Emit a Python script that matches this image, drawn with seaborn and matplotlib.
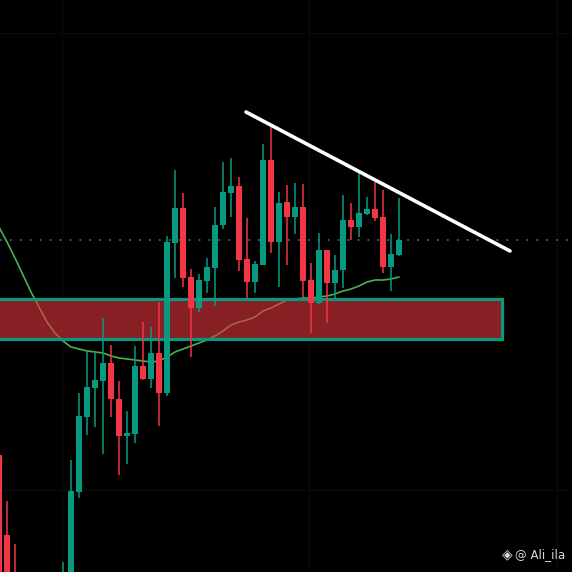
import numpy as np
import pandas as pd
import seaborn as sns
import matplotlib.pyplot as plt
from matplotlib.patches import Rectangle

# candle values (arbitrary price units)
opens = [245, 165, 115, 100, 60, 35, 50, 75, 100, 125, 208, 283, 312, 319, 337, 301, 264, 266,
         334, 321, 347, 307, 457, 492, 423, 392, 419, 432, 475, 507, 514, 441, 418, 435, 540, 458,
         498, 483, 493, 420, 397, 450, 417, 430, 480, 473, 486, 491, 483, 433, 445]
closes = [100, 90, 80, 60, 40, 50, 80, 100, 125, 209, 284, 313, 320, 337, 301, 264, 267, 334,
          321, 347, 307, 458, 492, 422, 392, 420, 433, 475, 508, 514, 440, 418, 436, 540, 458, 497,
          483, 493, 419, 397, 450, 417, 430, 480, 473, 487, 491, 482, 433, 446, 460]
highs = [256, 199, 156, 110, 70, 60, 90, 110, 138, 240, 307, 348, 348, 382, 355, 319, 289, 354,
         378, 373, 398, 464, 530, 507, 431, 426, 442, 493, 538, 542, 523, 482, 439, 556, 576, 508,
         515, 517, 516, 437, 467, 450, 445, 505, 497, 528, 503, 518, 510, 466, 502]
lows = [90, 80, 70, 50, 30, 25, 45, 70, 95, 120, 202, 265, 273, 246, 283, 225, 236, 257, 320,
        312, 274, 304, 422, 413, 343, 388, 407, 394, 471, 483, 429, 402, 407, 435, 447, 413, 435,
        466, 403, 367, 396, 377, 402, 412, 460, 463, 485, 479, 427, 409, 444]
ma = [473, 458, 442, 425, 408, 393, 378, 367, 359, 353, 351, 349, 348, 347, 344, 342, 341, 340,
      339, 338, 339, 343, 348, 351, 354, 357, 360, 364, 369, 375, 378, 380, 383, 389, 392, 396,
      400, 401, 402, 402, 403, 404, 406, 409, 411, 414, 418, 420, 420, 421, 423]

zone_low, zone_high = 361, 401
dotted_level = 460
trend_x = [30.875, 63.875]
trend_y = [588, 449]

GREEN = "#089981"
RED = "#f23645"

df = pd.DataFrame({"i": np.arange(len(opens)), "open": opens, "close": closes,
                   "high": highs, "low": lows, "ma": ma})

sns.set_theme(style="dark")
fig = plt.figure(figsize=(5.72, 5.72), dpi=100, facecolor="black")
ax = fig.add_axes([0, 0, 1, 1])
ax.set_facecolor("black")

# faint grid
for gx in [7.875, 38.75, 69.75]:
    ax.axvline(gx, color="#0b0b0b", lw=0.8, zorder=0)
for gy in [667, 210]:
    ax.axhline(gy, color="#0b0b0b", lw=0.8, zorder=0)

# moving average under the zone
sns.lineplot(data=df, x="i", y="ma", color="#4caf50", lw=1.2, ax=ax, zorder=1)

# demand zone (translucent fill so the MA shows through)
ax.add_patch(Rectangle((-3, zone_low), 65.875, zone_high - zone_low,
                       facecolor="#e3343f", alpha=0.6, lw=0, zorder=2))
ax.add_patch(Rectangle((-3, zone_low), 65.875, zone_high - zone_low,
                       facecolor="none", edgecolor=GREEN, lw=2.3, zorder=2))

ax.axhline(dotted_level, color="#1a7d68", lw=1.3, ls=(0, (1, 4.5)), zorder=1)

# candles
up = df["close"] >= df["open"]
colors = np.where(up, GREEN, RED)
ax.vlines(df["i"], df["low"], df["high"], colors=colors, lw=1.1, zorder=3)
body_lo = np.minimum(df["open"], df["close"])
body_h = np.maximum(np.abs(df["close"] - df["open"]), 1.5)
ax.bar(df["i"], body_h, bottom=body_lo, width=0.75, color=colors, lw=0, zorder=3)

ax.plot(trend_x, trend_y, color="white", lw=2.6, solid_capstyle="round", zorder=4)

ax.text(0.886, 0.031, "◈", color="#d8d8d8", fontsize=10, transform=ax.transAxes,
        ha="center", va="center")
ax.text(0.9, 0.03, "@ Ali_ila", color="#d8d8d8", fontsize=8.5, transform=ax.transAxes,
        ha="left", va="center")

ax.set_xlim(0.125, 71.625)
ax.set_ylim(128, 700)
ax.set_axis_off()

fig.savefig("out.png", dpi=100, facecolor="black")
